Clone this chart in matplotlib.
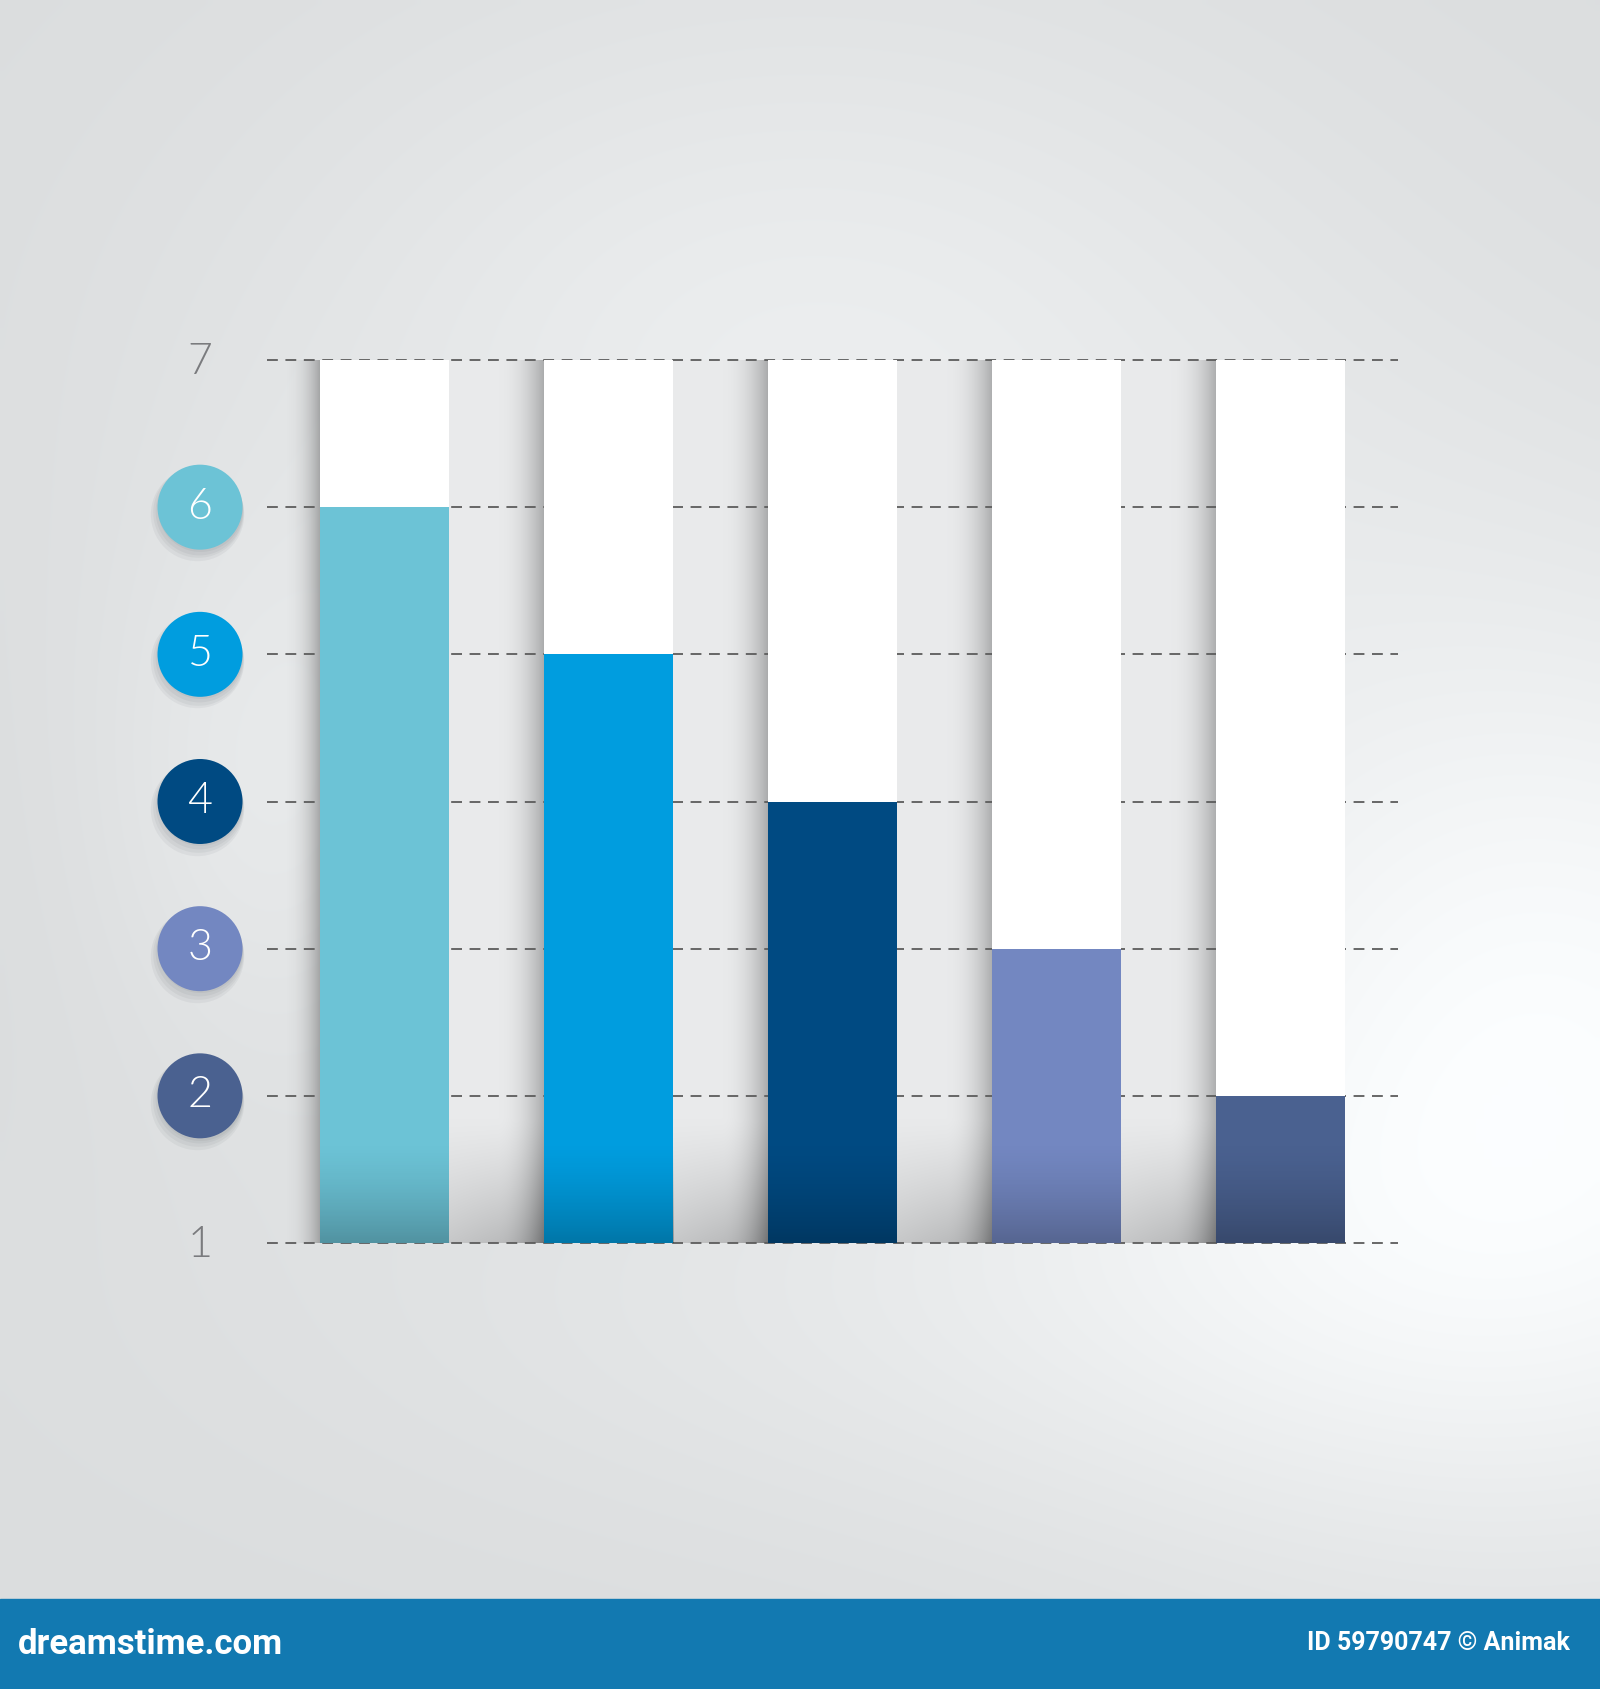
import numpy as np
import matplotlib
matplotlib.use('Agg')
import matplotlib.pyplot as plt
from matplotlib.patches import Rectangle

values = [6, 5, 4, 3, 2]
bar_colors = ['#6cc3d6', '#009ddf', '#004a82', '#7387c1', '#4a6190']
circle_ticks = [6, 5, 4, 3, 2]
plain_ticks = [7, 1]
grid_ticks = [1, 2, 3, 4, 5, 6, 7]
y_min, y_max = 1, 7
site_text = 'dreamstime.com'
id_text = 'ID 59790747 \u00a9 Animak'

W, H = 1600, 1689
fig = plt.figure(figsize=(W / 100, H / 100), dpi=100)

# background: light grey with soft white glows
bg = fig.add_axes([0, 0, 1, 1], zorder=0)
yy, xx = np.mgrid[0:H:8, 0:W:8]
v = 0.87 + 0.12 * np.exp(-(((xx - 1550) / 480) ** 2 + ((yy - 1050) / 480) ** 2))
v += 0.065 * np.exp(-(((xx - 800) / 560) ** 2 + ((yy - 380) / 400) ** 2))
v += 0.04 * np.exp(-(((xx - 260) / 170) ** 2 + ((yy - 800) / 280) ** 2))
v += 0.04 * np.exp(-(((xx - 1000) / 700) ** 2 + ((yy - 1300) / 250) ** 2))
v = np.clip(v, 0, 1)
img = np.dstack([v - 0.012, v - 0.004, v])
bg.imshow(np.clip(img, 0, 1), extent=(0, W, 0, H), origin='upper', aspect='auto', interpolation='bilinear')
bg.set_xlim(0, W)
bg.set_ylim(0, H)
bg.axis('off')

ax = fig.add_axes([0, 0, 1, 1], zorder=1)
ax.patch.set_alpha(0)
ax.axis('off')

# pixel layout -> data limits
x0_px, step_px = 384.5, 224.0
unit_px = (1243 - 360) / 6.0
bottom_px = H - 1243
x = np.arange(len(values))
bar_w = 129 / step_px
xlim = (-x0_px / step_px, (W - x0_px) / step_px)
ylim = (y_min - bottom_px / unit_px, y_min + (H - bottom_px) / unit_px)

# gaps between the paper strips
GX, GY = np.meshgrid(np.linspace(0, 1, 80), np.linspace(0, 1, 300))
shade = 0.92 - 0.24 * np.clip((GX - 0.5) / 0.5, 0, 1) ** 2.2
shade -= 0.22 * np.clip((0.14 - GY) / 0.14, 0, 1) ** 1.3 * (0.6 + 0.4 * GX)
gap_img = np.dstack([shade - 0.006, shade - 0.002, shade + 0.002])
for i in range(len(values) - 1):
    ax.imshow(np.clip(gap_img, 0, 1), extent=(i + bar_w / 2, i + 1 - bar_w / 2, y_min, y_max),
              origin='lower', aspect='auto', zorder=1, interpolation='bilinear')

# shadow left of the first strip
SX, SY = np.meshgrid(np.linspace(0, 1, 60), np.linspace(0, 1, 300))
sh = np.zeros((300, 60, 4))
sh[..., :3] = 0.35
sh[..., 3] = 0.45 * SX ** 2.5
ax.imshow(sh, extent=(-0.5 + 0.04, -bar_w / 2, y_min, y_max), origin='lower', aspect='auto', zorder=1)

ax.hlines(grid_ticks, -0.5246, len(values) - 1 + 0.5246, colors='#5c5c5c', linewidth=1.3,
          linestyles=(0, (6, 4.2)), zorder=2)

ax.bar(x, [y_max - y_min] * len(values), bottom=y_min, width=bar_w, color='white', zorder=3)
ax.bar(x, [val - y_min for val in values], bottom=y_min, width=bar_w, color=bar_colors, zorder=4)

# darker bottom on the coloured bars
dark = np.zeros((100, 2, 4))
dark[..., 3] = (0.25 * (1 - np.linspace(0, 1, 100)) ** 1.5)[:, None]
for i in range(len(values)):
    ax.imshow(dark, extent=(i - bar_w / 2, i + bar_w / 2, y_min, y_min + 0.7),
              origin='lower', aspect='auto', zorder=5, interpolation='bilinear')

# bullets on the left
cx = (200 - x0_px) / step_px
tick_colors = {v_: c for v_, c in zip(values, bar_colors)}
d_pt = 85 * 72 / 100
for k in range(4):
    ax.scatter([cx - 0.004 * k] * len(circle_ticks), [t - 0.012 * (k + 1) for t in circle_ticks],
               s=(d_pt + 2 * k) ** 2, color='#404850', alpha=0.06, linewidths=0, zorder=5)
ax.scatter([cx] * len(circle_ticks), circle_ticks, s=d_pt ** 2,
           color=[tick_colors[t] for t in circle_ticks], linewidths=0, zorder=6)
for t in circle_ticks:
    ax.text(cx, t, str(t), color='white', fontsize=31, fontweight=300,
            family=['Lato', 'DejaVu Sans'], ha='center', va='center', zorder=7)
for t in plain_ticks:
    ax.text(cx, t - 0.02, str(t), color='#7a7b7e', fontsize=31, fontweight=300,
            family=['Lato', 'DejaVu Sans'], ha='center', va='center', zorder=7)

ax.set_xlim(*xlim)
ax.set_ylim(*ylim)

# bottom banner
fig.patches.append(Rectangle((0, 0), 1, 90 / H, transform=fig.transFigure,
                             color='#1279b1', zorder=2))
fig.text(18 / W, 45 / H, site_text, color='white', fontsize=25, fontweight='bold',
         family=['Roboto', 'DejaVu Sans'], ha='left', va='center', zorder=3)
fig.text(1570 / W, 46 / H, id_text, color='white', fontsize=18, fontweight='bold',
         family=['Roboto', 'DejaVu Sans'], ha='right', va='center', zorder=3)

fig.savefig('out.png', dpi=100)
